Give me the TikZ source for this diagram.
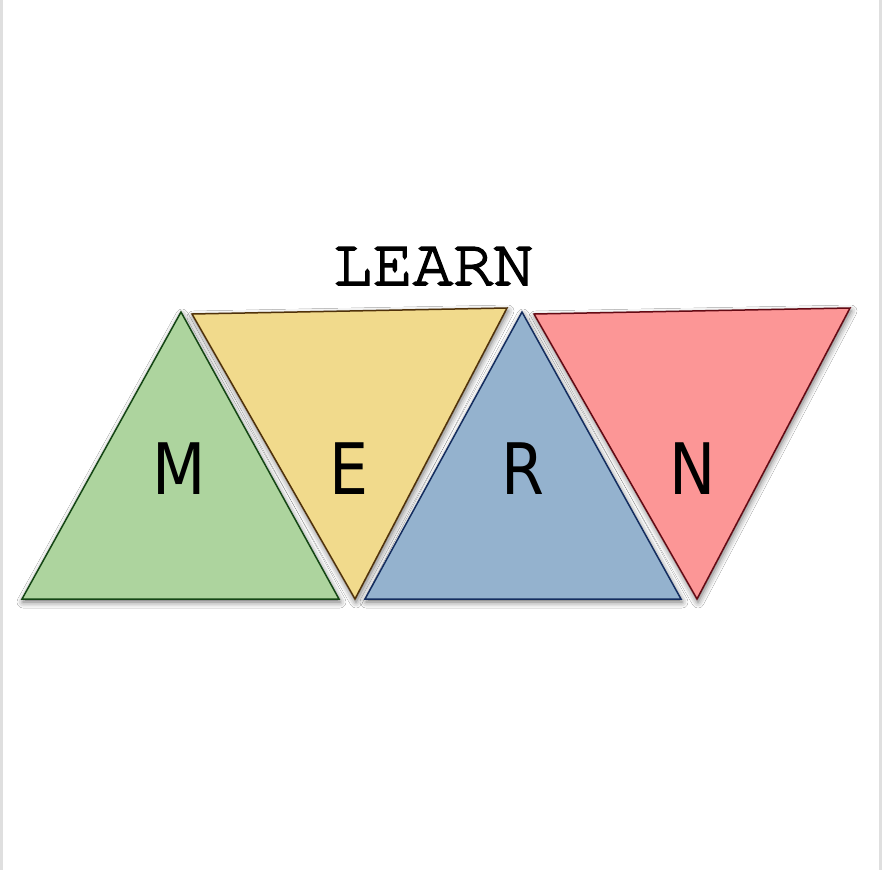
\documentclass[tikz,border=0pt]{standalone}
\usepackage{fontspec}
\newfontfamily\learnfont{TeX Gyre Cursor}[FakeBold=2.5]
\newfontfamily\letterfont{DejaVu Sans}
\usetikzlibrary{shadows.blur}
\definecolor{gfill}{RGB}{173,212,158}
\definecolor{gline}{RGB}{20,70,20}
\definecolor{yfill}{RGB}{241,218,140}
\definecolor{yline}{RGB}{80,50,10}
\definecolor{bfill}{RGB}{148,178,206}
\definecolor{bline}{RGB}{20,45,95}
\definecolor{rfill}{RGB}{252,150,150}
\definecolor{rline}{RGB}{100,10,20}
\begin{document}
\begin{tikzpicture}[x=1pt,y=-1pt,
  tri/.style={line width=1.5pt, line join=miter,
    blur shadow={shadow xshift=1pt,shadow yshift=-3pt,shadow blur radius=6pt,shadow opacity=60}},
  big/.style={anchor=base, inner sep=0pt, font=\letterfont\fontsize{71}{71}\selectfont}]
\useasboundingbox (0,0) rectangle (882,870);
\fill[white] (0,0) rectangle (882,870);
\fill[gray!25] (0,0) rectangle (2.5,870);
\fill[gray!25] (878.5,0) rectangle (882,870);
\filldraw[tri, fill=gfill, draw=gline] (181,312) -- (339,599) -- (22,599) -- cycle;
\filldraw[tri, fill=yfill, draw=yline] (192,314) -- (507,308) -- (355,599) -- cycle;
\filldraw[tri, fill=bfill, draw=bline] (522,312) -- (681,599) -- (365,599) -- cycle;
\filldraw[tri, fill=rfill, draw=rline] (534,314) -- (850,308) -- (697,599) -- cycle;
\node[anchor=base, inner sep=0pt, font=\learnfont\fontsize{67}{67}\selectfont] (learn) at (433,285) {LEARN};
\node[big] (m) at (179,494) {\scalebox{0.87}[1]{M}};
\node[big] (e) at (349.5,494) {\scalebox{0.87}[1]{E}};
\node[big] (r) at (522.5,494) {\scalebox{0.87}[1]{R}};
\node[big] (n) at (693,494) {\scalebox{0.87}[1]{N}};
\end{tikzpicture}
\end{document}
